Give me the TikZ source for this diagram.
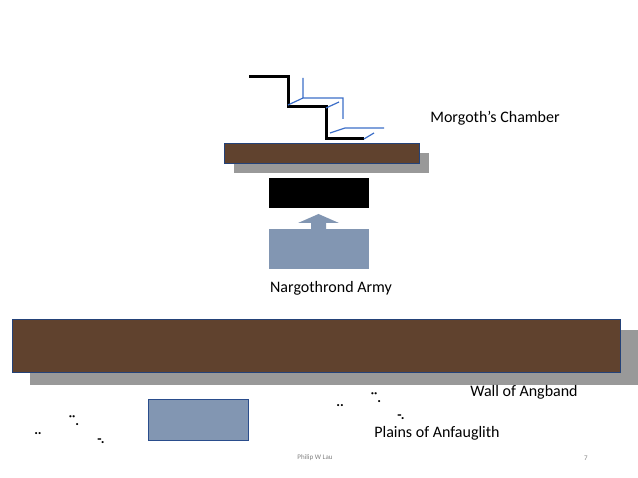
\documentclass[tikz,border=0pt]{standalone}
\usepackage{fontspec}
\setmainfont{Carlito}
\definecolor{stone}{RGB}{96,66,46}
\definecolor{army}{RGB}{130,150,178}
\definecolor{stair}{RGB}{60,110,200}
\tikzset{
  slab/.style={fill=stone, draw=stair!60!black, line width=0.6pt},
  shade/.style={fill=black!40, draw=none},
  label/.style={font=\fontsize{16}{19}\selectfont},
  dots/.style={font=\bfseries\fontsize{14}{14}\selectfont, inner sep=0pt}
}
\begin{document}
\begin{tikzpicture}[x=1pt, y=-1pt]
\useasboundingbox (0,0) rectangle (638,478);
% shelf under the chamber
\fill[shade] (234,153) rectangle (429,173);
\draw[slab] (224,143) rectangle (419,163);
% stairs
\draw[line width=3pt] (249,77) -- (288,77) -- (288,107) -- (326,107) -- (326,139) -- (364,139);
\draw[stair, line width=1.2pt] (303,78) -- (303,98) (288,105) -- (303,98) -- (343,98) -- (343,119)
  (326,108) -- (339,102) (330,133) -- (345,128) -- (384,128) (364,139) -- (374,133);
\node[label] (chamber) at (495,118) {Morgoth’s Chamber};
% gate and army
\fill (269,178) rectangle (369,208);
\fill[army] (269,229) rectangle (369,269);
\fill[army] (311,229) -- (311,223) -- (298,223) -- (318.5,214) -- (339,223) -- (326,223) -- (326,229) -- cycle;
\node[label] (nargo) at (331,288) {Nargothrond Army};
% wall
\fill[shade] (30,330) rectangle (638,385);
\draw[slab] (12,319) rectangle (620,372);
\node[label] (wall) at (524,392) {Wall of Angband};
% plains
\draw[fill=army, draw=stair!70!black, line width=0.6pt] (148,399) rectangle (248,440);
\node[label] (plains) at (437,433) {Plains of Anfauglith};
\node[dots] (d1) at (38,434) {..};
\node[dots] (d2) at (74,421) {˙˙.};
\node[dots] (d3) at (101,441) {-.};
\node[dots] (d4) at (340,406) {..};
\node[dots] (d5) at (376,398) {˙˙.};
\node[dots] (d6) at (401,417) {-.};
% footer
\node[font=\fontsize{7}{8}\selectfont, text=black!50] (author) at (315,458) {Philip W Lau};
\node[font=\fontsize{7}{8}\selectfont, text=black!50] (page) at (586,458) {7};
\end{tikzpicture}
\end{document}
